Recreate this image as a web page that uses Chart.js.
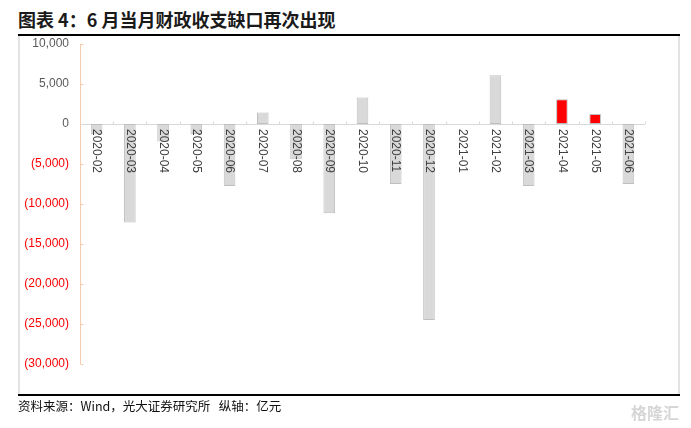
<!DOCTYPE html>
<html>
<head>
<meta charset="utf-8">
<script src="https://cdn.jsdelivr.net/npm/chart.js@4.4.1/dist/chart.umd.min.js"></script>
<style>
  body { margin: 0; background: #fff; }
  .page { position: relative; width: 691px; height: 428px; overflow: hidden; font-family: "Noto Sans CJK SC", "Liberation Sans", sans-serif; }
  .title { position: absolute; left: 18px; top: 6px; font-size: 18px; font-weight: bold; color: #1a1a1a; white-space: nowrap; }
  .rule-top { position: absolute; left: 18px; top: 34px; width: 662px; height: 2px; background: #000; }
  .frame { position: absolute; left: 18px; top: 36px; width: 658px; height: 358px; border-left: 2px solid #e3e3e3; border-right: 2px solid #e3e3e3; }
  .rule-bottom { position: absolute; left: 18px; top: 394px; width: 662px; height: 1.5px; background: #000; }
  .source { position: absolute; left: 18px; top: 396px; font-size: 12.5px; color: #111; white-space: nowrap; }
  .mark { position: absolute; right: 12px; top: 400px; font-size: 16px; color: #d6d6d6; font-weight: bold; }
  canvas { position: absolute; left: 0; top: 0; }
</style>
</head>
<body>
<div class="page">
  <div class="title">图表 4：6 月当月财政收支缺口再次出现</div>
  <div class="rule-top"></div>
  <div class="frame"></div>
  <canvas id="deficitChart" width="691" height="428"></canvas>
  <div class="rule-bottom"></div>
  <div class="source">资料来源：Wind，光大证券研究所&nbsp;&nbsp;&nbsp;纵轴：亿元</div>
  <div class="mark">格隆汇</div>
</div>
<script>
// monthly fiscal balance, 100m yuan
const months = ['2020-02', '2020-03', '2020-04', '2020-05', '2020-06', '2020-07', '2020-08', '2020-09',
    '2020-10', '2020-11', '2020-12', '2021-01', '2021-02', '2021-03', '2021-04', '2021-05', '2021-06'];
const balance = [-1300, -12300, -2200, -1250, -7750, 1450, -4400, -11150,
    3300, -7500, -24500, null, 6100, -7750, 3100, 1250, -7500];
const highlightMonths = ['2021-04', '2021-05'];
const yTicks = [10000, 5000, 0, -5000, -10000, -15000, -20000, -25000, -30000];

const fmt = (v) => {
    const s = Math.abs(v).toLocaleString('en-US');
    return v < 0 ? '(' + s + ')' : s;
};

// axis lines + labels drawn the Excel way (labels sit next to the zero line)
const axisDecor = {
    id: 'axisDecor',
    beforeDatasetsDraw(chart) {
        const { ctx, chartArea, scales: { x, y } } = chart;
        const zeroY = Math.round(y.getPixelForValue(0)) + 0.5;
        const left = Math.round(chartArea.left) + 0.5;
        ctx.save();
        ctx.lineWidth = 1;

        ctx.strokeStyle = '#f8cbad';
        ctx.beginPath();
        ctx.moveTo(left, chartArea.top);
        ctx.lineTo(left, chartArea.bottom);
        yTicks.forEach(t => {
            const py = Math.round(y.getPixelForValue(t)) + 0.5;
            ctx.moveTo(left, py);
            ctx.lineTo(left + 3, py);
        });
        ctx.stroke();

        ctx.strokeStyle = '#d9d9d9';
        ctx.beginPath();
        ctx.moveTo(left, zeroY);
        ctx.lineTo(chartArea.right, zeroY);
        const w = (chartArea.right - chartArea.left) / months.length;
        for (let i = 1; i <= months.length; i++) {
            const bx = Math.round(chartArea.left + i * w) + 0.5;
            ctx.moveTo(bx, zeroY);
            ctx.lineTo(bx, zeroY - 3);
        }
        ctx.stroke();
        ctx.restore();
    },
    afterDatasetsDraw(chart) {
        const { ctx, scales: { x, y } } = chart;
        const zeroY = y.getPixelForValue(0);
        ctx.save();
        ctx.font = '12px "Liberation Sans", Arial, sans-serif';
        ctx.fillStyle = '#404040';
        ctx.textAlign = 'left';
        ctx.textBaseline = 'middle';
        months.forEach((m, i) => {
            ctx.save();
            ctx.translate(x.getPixelForValue(i), zeroY + 5);
            ctx.rotate(Math.PI / 2);
            ctx.fillText(m, 0, 0);
            ctx.restore();
        });
        ctx.restore();
    }
};

new Chart(document.getElementById('deficitChart'), {
    type: 'bar',
    data: {
        labels: months,
        datasets: [{
            data: balance,
            backgroundColor: months.map(m => highlightMonths.includes(m) ? '#ff0000' : '#d9d9d9'),
            borderColor: '#bfbfbf',
            borderWidth: 1,
            borderSkipped: false,
            categoryPercentage: 1,
            barPercentage: 0.35
        }]
    },
    options: {
        responsive: false,
        animation: false,
        devicePixelRatio: 1,
        layout: { autoPadding: false, padding: { left: 0, top: 44, right: 46, bottom: 64 } },
        plugins: { legend: { display: false }, tooltip: { enabled: false } },
        scales: {
            x: { display: false },
            y: {
                min: -30000,
                max: 10000,
                afterFit: (scale) => { scale.width = 80; },
                afterBuildTicks: (scale) => { scale.ticks = yTicks.map(v => ({ value: v })); },
                grid: { display: false, drawTicks: false },
                border: { display: false },
                ticks: {
                    padding: 11,
                    font: { family: '"Liberation Sans", Arial, sans-serif', size: 12 },
                    color: (c) => c.tick.value < 0 ? '#ff0000' : '#595959',
                    callback: (v) => fmt(v)
                }
            }
        }
    },
    plugins: [axisDecor]
});
</script>
</body>
</html>
